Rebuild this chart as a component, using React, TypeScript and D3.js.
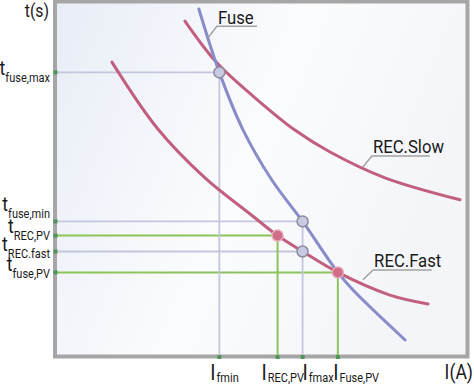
import React, { useEffect } from "react";
import * as d3 from "d3";

// ---- data (arbitrary linear units) ----
const currentNames = ["fmin", "REC,PV", "fmax", "Fuse,PV"];
const currentValues = [39.6, 53.8, 59.9, 68.5];

const timeNames = ["fuse,max", "fuse,min", "REC,PV", "REC.fast", "fuse,PV"];
const timeValues = [80.4, 38.3, 34.3, 29.8, 23.9];

const fuseCurve: [number, number][] = [
  [34.6, 98.3], [39.6, 80.4], [45.4, 64.1], [52.4, 50.0], [59.9, 38.3],
  [68.5, 23.9], [72.2, 18.9], [84.9, 4.8],
];
const recSlowCurve: [number, number][] = [
  [31.2, 94.9], [39.0, 83.1], [48.3, 73.2], [58.0, 64.1], [66.6, 57.9],
  [80.0, 50.6], [98.3, 44.4],
];
const recFastCurve: [number, number][] = [
  [13.4, 83.3], [24.4, 64.7], [36.1, 50.6], [47.1, 40.4], [53.8, 34.3],
  [59.9, 29.8], [68.5, 23.9], [81.2, 17.5], [90.5, 15.0],
];

// guides: [time index, current index, kind]
const horizontalGuides: [number, number, string][] = [
  [0, 0, "gray"], [1, 2, "gray"], [2, 1, "green"], [3, 2, "gray"], [4, 3, "green"],
];
const verticalGuides: [number, number, string][] = [
  [0, 0, "gray"], [1, 2, "gray"], [2, 1, "green"], [4, 3, "green"],
];
// marked points: [current index, time index, kind]
const markedPoints: [number, number, string][] = [
  [0, 0, "gray"], [2, 1, "gray"], [2, 3, "gray"], [1, 2, "pink"], [3, 4, "pink"],
];

// curve labels: name, anchor on curve (data), elbow (data), end x (data)
const curveLabels = ["Fuse", "REC.Slow", "REC.Fast"];
const curveLabelAnchors: [number, number][] = [[36.9, 90.3], [74.6, 53.7], [74.6, 21.8]];
const curveLabelElbows: [number, number][] = [[39.0, 93.4], [76.8, 56.8], [77.1, 24.6]];
const curveLabelEnds = [48.8, 90.9, 91.4];

// ---- layout ----
const W = 474;
const H = 389;
const x = d3.scaleLinear().domain([0, 100]).range([57, 467]);
const y = d3.scaleLinear().domain([0, 100]).range([357, 3]);

const FONT = "Roboto, 'Liberation Sans', Arial, sans-serif";
const SQ = 0.88; // horizontal squeeze to imitate the condensed face

const COLORS: Record<string, string> = {
  gray: "#c4c5de",
  green: "#8cc35a",
  fuse: "#8a8cc9",
  rec: "#c25f7e",
};

// per-label vertical placement of left labels (offset of subscript baseline from line)
const timeLabelOffsets = [9.5, -3.5, 4.5, 6.5, 5.5];
// per-label horizontal placement of bottom labels (start of "I" relative to tick)
const currentLabelOffsets = [-9, -16, 0, -4.5];

export default function App() {
  useEffect(() => {
    document.body.style.margin = "0";
  }, []);

  const line = d3
    .line<[number, number]>()
    .x((d) => x(d[0]))
    .y((d) => y(d[1]))
    .curve(d3.curveCatmullRom.alpha(0.5));

  const x0 = x(0);
  const y0 = y(0);

  return (
    <svg width={W} height={H} style={{ display: "block" }} fontFamily={FONT}>
      <defs>
        <linearGradient id="bg" x1="0" y1="0" x2="1" y2="0.35">
          <stop offset="0" stopColor="#e8edf6" />
          <stop offset="0.55" stopColor="#fbfcfe" />
          <stop offset="1" stopColor="#f4f5f9" />
        </linearGradient>
      </defs>
      <rect width={W} height={H} fill="#ffffff" />
      {/* plot frame */}
      <rect
        x={55}
        y={1.5}
        width={412.5}
        height={355}
        fill="url(#bg)"
        stroke="#a6a6a6"
        strokeWidth={4}
      />

      {/* guides */}
      {horizontalGuides.map(([ti, ci, kind], i) => (
        <line
          key={"h" + i}
          x1={x0}
          x2={x(currentValues[ci])}
          y1={y(timeValues[ti])}
          y2={y(timeValues[ti])}
          stroke={COLORS[kind]}
          strokeWidth={kind === "green" ? 2 : 1.8}
        />
      ))}
      {verticalGuides.map(([ti, ci, kind], i) => (
        <line
          key={"v" + i}
          x1={x(currentValues[ci])}
          x2={x(currentValues[ci])}
          y1={y(timeValues[ti])}
          y2={y0}
          stroke={COLORS[kind]}
          strokeWidth={kind === "green" ? 2 : 1.8}
        />
      ))}

      {/* axis markers */}
      {timeValues.map((t, i) => (
        <rect key={"tm" + i} x={53.5} y={y(t) - 2} width={4} height={4} fill="#4f9459" />
      ))}
      {currentValues.map((c, i) => (
        <rect key={"cm" + i} x={x(c) - 2} y={355} width={4} height={4} fill="#4f9459" />
      ))}

      {/* curves */}
      <path d={line(recSlowCurve) || ""} fill="none" stroke={COLORS.rec} strokeWidth={3} strokeLinecap="round" />
      <path d={line(recFastCurve) || ""} fill="none" stroke={COLORS.rec} strokeWidth={3} strokeLinecap="round" />
      <path d={line(fuseCurve) || ""} fill="none" stroke={COLORS.fuse} strokeWidth={3} strokeLinecap="round" />

      {/* marked points */}
      {markedPoints.map(([ci, ti, kind], i) => (
        <circle
          key={"p" + i}
          cx={x(currentValues[ci])}
          cy={y(timeValues[ti])}
          r={5.5}
          fill={kind === "pink" ? "#cf6c88" : "#c8c9e2"}
          stroke={kind === "pink" ? "#e7a9ba" : "#8b8c9c"}
          strokeWidth={1.5}
        />
      ))}

      {/* curve labels with leaders */}
      {curveLabels.map((name, i) => {
        const a = curveLabelAnchors[i];
        const e = curveLabelElbows[i];
        const endX = x(curveLabelEnds[i]);
        return (
          <g key={"cl" + i}>
            <polyline
              points={`${x(a[0])},${y(a[1])} ${x(e[0])},${y(e[1])} ${endX},${y(e[1])}`}
              fill="none"
              stroke="#a3a3a3"
              strokeWidth={1.5}
            />
            <g transform={`translate(${x(e[0]) + 1},${y(e[1]) - 2.5}) scale(${SQ},1)`}>
              <text fontSize={19} fill="#1a1a1a">{name}</text>
            </g>
          </g>
        );
      })}

      {/* axis titles */}
      <g transform={`translate(49,16.5) scale(${SQ},1)`}>
        <text fontSize={18} textAnchor="end" fill="#1a1a1a">t(s)</text>
      </g>
      <g transform={`translate(473,379) scale(${SQ},1)`}>
        <text fontSize={20} textAnchor="end" fill="#1a1a1a">I(A)</text>
      </g>

      {/* time labels */}
      {timeNames.map((n, i) => (
        <g key={"tl" + i} transform={`translate(50,${y(timeValues[i]) + timeLabelOffsets[i]}) scale(${SQ},1)`}>
          <text textAnchor="end" fill="#1a1a1a">
            <tspan fontSize={20} dy={-7}>t</tspan>
            <tspan fontSize={12.5} dy={7}>{n}</tspan>
          </text>
        </g>
      ))}

      {/* current labels */}
      {currentNames.map((n, i) => (
        <g key={"il" + i} transform={`translate(${x(currentValues[i]) + currentLabelOffsets[i]},380) scale(${SQ},1)`}>
          <text fill="#1a1a1a">
            <tspan fontSize={22}>I</tspan>
            <tspan fontSize={12.5} dy={2} dx={1}>{n}</tspan>
          </text>
        </g>
      ))}
    </svg>
  );
}
